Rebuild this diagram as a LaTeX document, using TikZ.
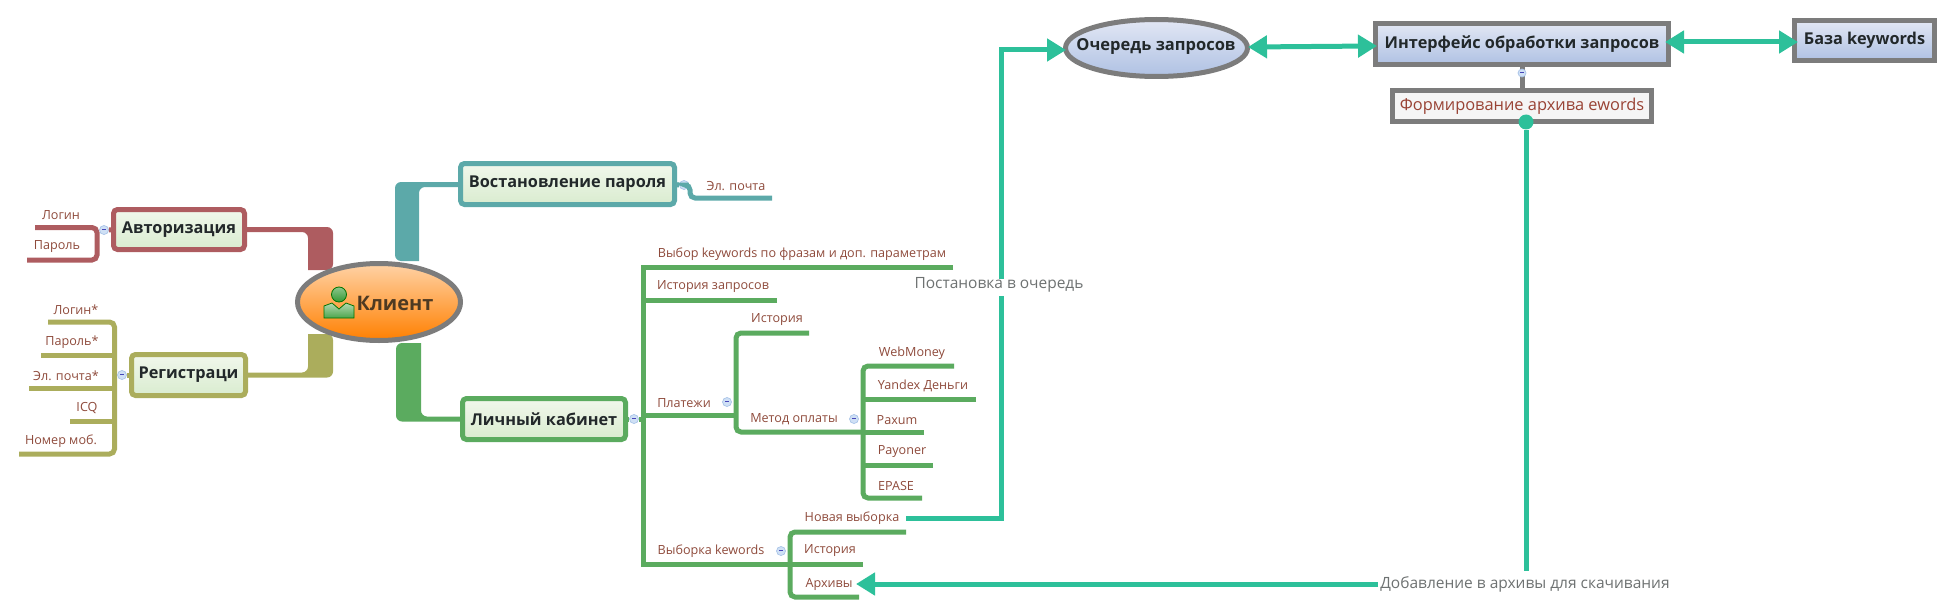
\documentclass[tikz,border=0pt]{standalone}
\usepackage{fontspec}
\setmainfont{Open Sans}
\usepackage{xcolor}
\usetikzlibrary{calc,arrows.meta,shapes.geometric,backgrounds}
\definecolor{ink}{HTML}{22282A}
\definecolor{leaftext}{HTML}{8E4A3B}
\definecolor{notetext}{HTML}{6E7272}
\definecolor{frame}{HTML}{7C7C7C}
\definecolor{linkred}{HTML}{AE5C60}
\definecolor{linkolive}{HTML}{ABAD5C}
\definecolor{linkteal}{HTML}{5CA9A9}
\definecolor{linkgrn}{HTML}{5BAB5F}
\definecolor{flowc}{HTML}{2DC09A}
\definecolor{topictop}{HTML}{F1F7EC}
\definecolor{topicbot}{HTML}{D9ECCF}
\definecolor{servtop}{HTML}{E2E7F4}
\definecolor{servbot}{HTML}{AFC1E3}
\definecolor{btnfill}{HTML}{CFE0F5}
\definecolor{btnline}{HTML}{A9C4E8}
\tikzset{
  topic/.style={draw=#1, line width=5pt, rounded corners=4pt, inner sep=0pt, top color=topictop, bottom color=topicbot, font=\fontsize{16.3}{18}\selectfont\bfseries, text=ink},
  service/.style={draw=frame, line width=5pt, inner sep=0pt, top color=servtop, bottom color=servbot, font=\fontsize{16.3}{18}\selectfont\bfseries, text=ink},
  leaf/.style={inner sep=0pt, yshift=-1pt, text=leaftext, font=\fontsize{12.6}{14}\selectfont},
  notelbl/.style={inner sep=0pt, fill=white, text=notetext, font=\fontsize{15.5}{18}\selectfont},
  branch/.style={draw=#1, line width=5pt, line cap=butt, line join=miter},
  fatlink/.style={fill=#1},
  flow/.style={draw=flowc, line width=5pt},
  endtip/.style={-{Triangle[length=19pt,width=22pt]}},
  twotip/.style={{Triangle[length=19pt,width=22pt]}-{Triangle[length=19pt,width=22pt]}},
  btn/.style={circle, draw=btnline, fill=btnfill, line width=0.7pt, inner sep=0pt, minimum size=9pt, text=blue!45!gray},
}
\newcommand{\minussign}{\rule[0.5pt]{4pt}{0.8pt}}

\begin{document}
\begin{tikzpicture}[x=1pt,y=-1pt]
  \useasboundingbox (0,0) rectangle (1953,615);
  % centre
  \node[ellipse, draw=frame, line width=5pt, inner sep=0pt, minimum width=163pt, minimum height=77pt, top color=orange!35!white, bottom color=orange] (client) at (379,302) {};
  \node[inner sep=0pt, text=ink!80!orange, font=\fontsize{20}{22}\selectfont\bfseries] (clienttxt) at (395,303) {Клиент};
  \draw[draw=green!45!black, line width=0.8pt, top color=green!50!black!30!white, bottom color=green!50!black!70!white] (324,318) -- (324,306) -- (332,303) -- (339,309) -- (346,303) -- (354,306) -- (354,318) -- cycle;
  \draw[draw=green!45!black, line width=0.8pt, top color=green!50!black!45!white, bottom color=green!50!black!80!white] (339,294.5) circle (7.5);
  % topics
  \node[topic=linkred, minimum width=131pt, minimum height=40pt] (auth) at (179,229.5) {Авторизация};
  \node[topic=linkolive, minimum width=114pt, minimum height=41pt] (reg) at (188.5,375) {Регистраци};
  \node[topic=linkteal, minimum width=214pt, minimum height=41pt] (restore) at (567.5,184) {Востановление пароля};
  \node[topic=linkgrn, minimum width=163pt, minimum height=41pt] (cabinet) at (544,419) {Личный кабинет};
  % links to the centre
  \begin{scope}[on background layer]
    \fill[fatlink=linkred, rounded corners=6pt] ($(auth.east)+(0,-2.5)$) -- (333,227) -- (333,270) [sharp corners] -- (308,270) [rounded corners=6pt] -- (308,232) [sharp corners] -- ($(auth.east)+(0,2.5)$) -- cycle;
    \fill[fatlink=linkolive, rounded corners=6pt] ($(reg.east)+(0,2.5)$) -- (333,377.5) -- (333,334) [sharp corners] -- (308,334) [rounded corners=6pt] -- (308,372.5) [sharp corners] -- ($(reg.east)+(0,-2.5)$) -- cycle;
    \fill[fatlink=linkteal, rounded corners=6pt] ($(restore.west)+(0,-2)$) -- (395,182) -- (395,261) [sharp corners] -- (419,261) [rounded corners=6pt] -- (419,187) [sharp corners] -- ($(restore.west)+(0,3)$) -- cycle;
    \fill[fatlink=linkgrn, rounded corners=6pt] ($(cabinet.west)+(0,2.5)$) -- (396,421.5) -- (396,343) [sharp corners] -- (421,343) [rounded corners=6pt] -- (421,416.5) [sharp corners] -- ($(cabinet.west)+(0,-2.5)$) -- cycle;
  \end{scope}
  % authorisation
  \foreach \nm/\txt/\tx/\ty/\xe/\ye in {authA/Логин/61/214/35/227.5, authB/Пароль/57/246/27/260}{
    \node[leaf] (\nm) at (\tx,\ty) {\txt};
    \coordinate (\nm e) at (\xe,\ye);
  }
  \draw[branch=linkred, rounded corners=5pt] (authAe) -- (97,227.5) -- (97,260) -- (authBe);
  \node[btn] (btnauth) at (104,230) {\minussign};
  \draw[branch=linkred] (btnauth) -- (auth);
  % registration
  \foreach \nm/\txt/\tx/\ty/\xe/\ye in {regA/Логин*/76/309/48/322, regB/Пароль*/72/341/41/355, regC/Эл. почта*/66/375/29/388, regD/ICQ/87/407/70/421, regE/Номер моб./61/440/19/454}{
    \node[leaf] (\nm) at (\tx,\ty) {\txt};
    \coordinate (\nm e) at (\xe,\ye);
  }
  \coordinate (regbus) at (114.5,322);
  \foreach \nm in {regB,regC,regD}
    \draw[branch=linkolive] (\nm e) -- (\nm e -| regbus);
  \draw[branch=linkolive, rounded corners=5pt] (regAe) -- (regbus) -- (regbus |- regEe) -- (regEe);
  \node[btn] (btnreg) at (122,375) {\minussign};
  \draw[branch=linkolive] (btnreg) -- (reg);
  % restore
  \node[leaf] (mail) at (736,185) {Эл. почта};
  \coordinate (maile) at (772,198);
  \node[btn] (btnrestore) at (684,185) {\minussign};
  \draw[branch=linkteal] (restore) -- (btnrestore);
  \draw[branch=linkteal, rounded corners=5pt] (btnrestore.east) -- (690,185) -- (690,198) -- (maile);
  % cabinet: first bus
  \foreach \nm/\txt/\tx/\ty/\xe/\ye in {pick/Выбор keywords по фразам и доп. параметрам/802/253/953/267, hist/История запросов/713/286/777/300, pay/Платежи/684/402/736/415, sel/Выборка kewords/711/550/790/564}{
    \node[leaf] (\nm) at (\tx,\ty) {\txt};
    \coordinate (\nm e) at (\xe,\ye);
    \draw[branch=linkgrn] (\nm e) -- (643,\ye);
  }
  \draw[branch=linkgrn, line cap=rect] (643,267) -- (643,564);
  \node[btn] (btncab) at (634,419) {\minussign};
  \draw[branch=linkgrn] (btncab) -- (cabinet);
  \draw[branch=linkgrn] (btncab) -- (643,419);
  % payments
  \foreach \nm/\txt/\tx/\ty/\xe/\ye in {payA/История/777/319/809/333, payB/Метод оплаты/794/418/863/432}{
    \node[leaf] (\nm) at (\tx,\ty) {\txt};
    \coordinate (\nm e) at (\xe,\ye);
  }
  \draw[branch=linkgrn, rounded corners=5pt] (payAe) -- (736,333) -- (736,432) -- (payBe);
  \node[btn] (btnpay) at (727,402) {\minussign};
  % payment methods
  \foreach \nm/\txt/\tx/\ty/\xe/\ye in {wm/WebMoney/912/352/954/366, ya/Yandex Деньги/923/385/976/399, px/Paxum/897/419/924/432, pr/Payoner/902/451/933/465, ep/EPASE/896/485/922/498}{
    \node[leaf] (\nm) at (\tx,\ty) {\txt};
    \coordinate (\nm e) at (\xe,\ye);
  }
  \coordinate (paybus) at (863,366);
  \foreach \nm in {ya,px,pr}
    \draw[branch=linkgrn] (\nm e) -- (\nm e -| paybus);
  \draw[branch=linkgrn, rounded corners=5pt] (wme) -- (paybus) -- (paybus |- epe) -- (epe);
  \node[btn] (btnmethod) at (854,419) {\minussign};
  % selection
  \foreach \nm/\txt/\tx/\ty/\xe/\ye in {newsel/Новая выборка/852/517/906/532, oldsel/История/830/550/863/564, archive/Архивы/829/583/859/597}{
    \node[leaf] (\nm) at (\tx,\ty) {\txt};
    \coordinate (\nm e) at (\xe,\ye);
  }
  \coordinate (selbus) at (790,532);
  \draw[branch=linkgrn] (oldsele) -- (oldsele -| selbus);
  \draw[branch=linkgrn, rounded corners=5pt] (newsele) -- (selbus) -- (selbus |- archivee) -- (archivee);
  \node[btn] (btnsel) at (781,551) {\minussign};
  % services
  \node[ellipse, draw=frame, line width=5pt, inner sep=0pt, minimum width=182pt, minimum height=57pt, top color=servtop, bottom color=servbot] (queue) at (1156.5,48) {};
  \node[inner sep=0pt, text=ink, font=\fontsize{16.5}{18}\selectfont\bfseries] (queuetxt) at (1156,47) {Очередь запросов};
  \node[service, minimum width=293pt, minimum height=41pt] (iface) at (1522,44) {Интерфейс обработки запросов};
  \node[service, minimum width=140pt, minimum height=40pt] (base) at (1864.5,40.5) {База keywords};
  \node[draw=frame, line width=5pt, inner sep=0pt, fill=black!4!white, minimum width=259pt, minimum height=31pt, text=leaftext!90!red, font=\fontsize{16.4}{18}\selectfont] (form) at (1522,106) {Формирование архива ewords};
  \begin{scope}[on background layer]
    \draw[draw=frame, line width=5pt] (iface) -- (form);
  \end{scope}
  \node[btn, minimum size=8pt] (btniface) at (1522,73) {\minussign};
  \node[circle, fill=flowc, inner sep=0pt, minimum size=15pt] (formdot) at (1526,122) {};
  % flows
  \coordinate (queuebend) at (1001,50);
  \coordinate (archivetip) at (856,584);
  \draw[flow, endtip, shorten >=-3pt] (906,518) -- (1001,518) -- (queuebend) -- (queue.west |- queuebend);
  \draw[flow, twotip, shorten <=-2pt, shorten >=-4pt] ([yshift=1pt]queue.east) -- ([yshift=-2pt]iface.west);
  \draw[flow, twotip, shorten <=-6pt, shorten >=-6pt] ([yshift=2pt]iface.east) -- ([yshift=-1.5pt]base.west);
  \node[notelbl, anchor=base, text height=9pt, text depth=8pt] (queuelbl) at (999,288) {Постановка в очередь};
  \node[notelbl, anchor=base, inner xsep=2pt, text height=17pt, text depth=5pt] (addlbl) at (1525,588) {Добавление в архивы для скачивания};
  \draw[flow] (formdot) -- (formdot |- addlbl.north);
  \draw[flow, endtip] (addlbl.west |- archivetip) -- (archivetip);
\end{tikzpicture}
\end{document}
